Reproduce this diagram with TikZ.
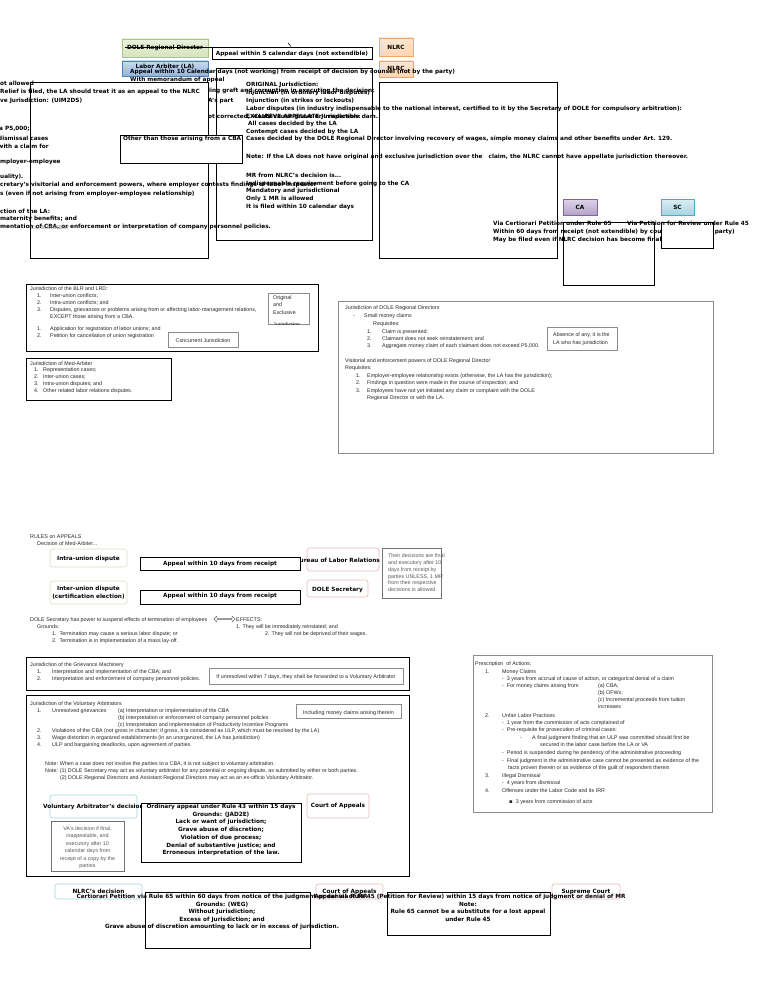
\documentclass[tikz,border=0pt]{standalone}
\usepackage{fontspec}
\setmainfont{DejaVu Sans}
\newfontfamily\arl{Liberation Sans}
\usetikzlibrary{fit,shapes.arrows}
\newcounter{tn}
\definecolor{grnF}{HTML}{D7E4BD}
\definecolor{grnD}{HTML}{A9C47F}
\definecolor{bluF}{HTML}{C5D9F1}
\definecolor{bluF2}{HTML}{95B3D7}
\definecolor{bluD}{HTML}{4F81BD}
\definecolor{orgF}{HTML}{FCD5B5}
\definecolor{orgD}{HTML}{E9A56B}
\definecolor{purF}{HTML}{DDD5E8}
\definecolor{purF2}{HTML}{B3A2C7}
\definecolor{purD}{HTML}{8064A2}
\definecolor{teaF}{HTML}{DAEEF3}
\definecolor{teaF2}{HTML}{A5D5E2}
\definecolor{teaD}{HTML}{4BACC6}
\definecolor{pnkD}{HTML}{E6B9B8}
\definecolor{begD}{HTML}{DDD9C4}
\definecolor{teaL}{HTML}{A5D5E2}
\tikzset{
  bt/.style={font=\fontsize{5.75}{7.7}\selectfont\bfseries, inner sep=0pt, anchor=base west},
  btc/.style={bt, anchor=base},
  bte/.style={bt, anchor=base east},
  st/.style={font=\arl\fontsize{5.35}{7}\selectfont, inner sep=0pt, anchor=base west, text=black!85},
  stc/.style={st, anchor=base},
  frame/.style={draw=black, line width=0.8pt, inner sep=0pt},
  wframe/.style={frame, fill=white},
  gframe/.style={draw=black!45, line width=0.6pt, inner sep=0pt, fill=white},
  grnbox/.style={draw=grnD, line width=0.6pt, top color=grnF!50, bottom color=grnF, inner sep=0pt},
  blubox/.style={draw=bluD, line width=0.6pt, top color=bluF, bottom color=bluF2, inner sep=0pt},
  orgbox/.style={draw=orgD, line width=0.6pt, top color=orgF!60, bottom color=orgF, inner sep=0pt},
  purbox/.style={draw=purD, line width=0.6pt, top color=purF, bottom color=purF2, inner sep=0pt},
  teabox/.style={draw=teaD, line width=0.6pt, top color=teaF, bottom color=teaF2, inner sep=0pt},
  rbeg/.style={draw=begD, line width=0.6pt, rounded corners=2.5pt, inner sep=0pt, fill=white},
  rpnk/.style={draw=pnkD, line width=0.6pt, rounded corners=2.5pt, inner sep=0pt, fill=white},
  rtea/.style={draw=teaL, line width=0.6pt, rounded corners=2.5pt, inner sep=0pt, fill=white},
}
\newcommand\T[4][bt]{\stepcounter{tn}\node[#1] (t\arabic{tn}) at (#2,#3) {#4};}
\newcommand\B[6][frame]{\node[#1, fit={(#3,#4) (#5,#6)}] (#2) {};}
\begin{document}
\begin{tikzpicture}[x=1pt,y=-1pt]
\useasboundingbox (0,0) rectangle (768,1006);
\fill[white] (0,0) rectangle (768,1006);

% ---------------- top part
\B[grnbox]{dole}{122}{39}{208}{57}
\T[btc]{165}{50}{DOLE Regional Director}
\coordinate (lnS) at (125,47.5);
\coordinate (lnE) at (291,47.5);
\draw[line width=0.7pt] (lnS) -- (lnE);
\coordinate (tkA) at (288,43);
\coordinate (tkB) at (291,46.5);
\draw[line width=0.5pt] (tkA) -- (tkB);
\B[wframe]{apfive}{212}{47}{372}{59}
\T[btc]{292}{56}{Appeal within 5 calendar days (not extendible)}
\B[orgbox]{nlrcA}{379}{38}{413}{56}
\T[btc]{396}{50}{NLRC}
\B[orgbox]{nlrcB}{379}{61}{413}{77}
\T[btc]{396}{71}{NLRC}
\B[blubox]{la}{122}{61}{208}{76}
\T[btc]{165}{69}{Labor Arbiter (LA)}
\T{130}{74}{Appeal within 10 Calendar days (not working) from receipt of decision by counsel (not by the party)}
\T{130}{81.5}{With memorandum of appeal}
\B{bone}{30}{82}{208}{258}
\B{btwo}{216}{68}{372}{240}
\B{bthree}{379}{82}{557}{258}

\T{0}{86}{ot allowed}
\T{0}{94}{Relief is filed, the LA should treat it as an appeal to the NLRC}
\T{0}{103}{ve Jurisdiction: (UIM2DS)}
\T{-1}{131}{a P5,000;}
\T{-2}{141}{dismissal cases}
\T{-2}{149}{with a claim for}
\T{0}{164}{mployer-employee}
\T{0}{178}{uality).}
\T{0}{186}{cretary's visitorial and enforcement powers, where employer contests findings of labor inspector}
\T{0}{195}{s (even if not arising from employer-employee relationship)}
\T{0}{213}{ction of the LA:}
\T{0}{220}{maternity benefits; and}
\T{0}{228}{mentation of CBA, or enforcement or interpretation of company personnel policies.}
\T[st, text=black!50]{31}{229}{CONCURRENT}
\T{208}{93}{ling graft and corruption in executing the decision;}
\T{208}{103}{A's part}
\T{208}{119}{ot corrected, would cause grave or irreparable dam.}

\T{246}{87}{ORIGINAL Jurisdiction:}
\T{246}{94.5}{Injunction (in ordinary labor disputes)}
\T{246}{102.5}{Injunction (in strikes or lockouts)}
\T{246}{111}{Labor disputes (in industry indispensable to the national interest, certified to it by the Secretary of DOLE for compulsory arbitration):}
\T{246}{119}{EXCLUSIVE APPELLATE Jurisdiction:}
\T{248}{126}{All cases decided by the LA}
\T{246}{133}{Contempt cases decided by the LA}
\T{246}{141}{Cases decided by the DOLE Regional Director involving recovery of wages, simple money claims and other benefits under Art. 129.}
\T{246}{158.5}{Note: If the LA does not have original and exclusive jurisdiction over the \ \ claim, the NLRC cannot have appellate jurisdiction thereover.}
\T{246}{177}{MR from NLRC's decision is...}
\T{246}{185}{Indispensable requirement before going to the CA}
\T{246}{192.5}{Mandatory and jurisdictional}
\T{246}{200.5}{Only 1 MR is allowed}
\T{246}{208.5}{It is filed within 10 calendar days}

\B[wframe]{other}{120}{135}{242}{163}
\T{123}{141}{Other than those arising from a CBA}

\B[purbox]{ca}{563}{199}{597}{215}
\T[btc]{580}{209.5}{CA}
\B[teabox]{sc}{661}{199}{694}{215}
\T[btc]{677.5}{209.5}{SC}
\B{cabox}{563}{222}{654}{285}
\T{493}{233}{Within 60 days from receipt (not extendible) by counsel (not by the party)}
\T{493}{241}{May be filed even if NLRC decision has become final.}
\B[wframe]{scbox}{661}{222}{713}{248}
\T{493}{225.5}{Via Certiorari Petition under Rule 65}
\T{627}{225.5}{Via Petition for Review under Rule 45}

% ---------------- BLR / Med-Arbiter
\B{blr}{26}{284}{318}{351}
\T[st]{30}{290}{Jurisdiction of the BLR and LRD:}
\T[st]{37}{297}{1.}\T[st]{50}{297}{Inter-union conflicts;}
\T[st]{37}{304}{2.}\T[st]{50}{304}{Intra-union conflicts; and}
\T[st]{37}{311}{3.}\T[st]{50}{311}{Disputes, grievances or problems arising from or affecting labor-management relations,}
\T[st]{50}{318}{EXCEPT those arising from a CBA.}
\T[st]{37}{330}{1.}\T[st]{50}{330}{Application for registration of labor unions; and}
\T[st]{37}{337}{2.}\T[st]{50}{337}{Petition for cancellation of union registration}
\B[gframe]{orig}{268}{293}{309}{324}
\T[st]{273}{299}{Original}
\T[st]{273}{306.5}{and}
\T[st]{273}{314}{Exclusive}
\begin{scope}
\clip (268,293) rectangle (309,324);
\T[st]{273}{326.5}{Jurisdiction}
\end{scope}
\B[gframe]{concur}{168}{332}{238}{347}
\T[stc]{203}{342}{Concurrent Jurisdiction}

\B{med}{26}{358}{171}{400}
\T[st]{30}{365}{Jurisdiction of Med-Arbiter}
\T[st]{34}{371.5}{1.}\T[st]{43}{371.5}{Representation cases;}
\T[st]{34}{378.5}{2.}\T[st]{43}{378.5}{Inter-union cases;}
\T[st]{34}{385.5}{3.}\T[st]{43}{385.5}{Intra-union disputes; and}
\T[st]{34}{392.5}{4.}\T[st]{43}{392.5}{Other related labor relations disputes.}

% ---------------- DOLE Regional Directors
\B[gframe]{rd}{338}{301}{713}{453}
\T[st]{345}{309}{Jurisdiction of DOLE Regional Directors}
\T[st]{353}{317}{-}\T[st]{364}{317}{Small money claims}
\T[st]{373}{325}{Requisites:}
\T[st]{367}{333}{1.}\T[st]{382}{333}{Claim is presented;}
\T[st]{367}{340}{2.}\T[st]{382}{340}{Claimant does not seek reinstatement; and}
\T[st]{367}{347}{3.}\T[st]{382}{347}{Aggregate money claim of each claimant does not exceed P5,000.}
\T[st]{345}{362}{Visitorial and enforcement powers of DOLE Regional Director}
\T[st]{345}{369}{Requisites:}
\T[st]{356}{377}{1.}\T[st]{367}{377}{Employer-employee relationship exists (otherwise, the LA has the jurisdiction);}
\T[st]{356}{384.5}{2.}\T[st]{367}{384.5}{Findings in question were made in the course of inspection; and}
\T[st]{356}{392}{3.}\T[st]{367}{392}{Employees have not yet initiated any claim or complaint with the DOLE}
\T[st]{367}{399.5}{Regional Director or with the LA.}
\B[gframe]{absence}{547}{327}{617}{350}
\T[st]{553}{336}{Absence of any, it is the}
\T[st]{553}{344}{LA who has jurisdiction}

% ---------------- RULES on APPEALS
\T[st]{30}{538}{RULES on APPEALS}
\T[st]{37}{545}{Decision of Med-Arbiter...}
\B[rbeg]{intra}{50}{549}{127}{567}
\T[btc]{88.5}{560.5}{Intra-union dispute}
\B[rpnk]{blrb}{307}{548}{379}{571}
\T[bte]{380}{562}{Bureau of Labor Relations}
\B[wframe]{apA}{140}{557}{300}{570}
\T[btc]{220}{565.5}{Appeal within 10 days from receipt}
\B[rbeg]{inter}{50}{581}{127}{604}
\T[btc]{88.5}{590.5}{Inter-union dispute}
\T[btc]{88.5}{598.5}{(certification election)}
\B[wframe]{apB}{140}{590}{300}{604}
\T[btc]{220}{597.5}{Appeal within 10 days from receipt}
\B[rpnk]{dsec}{307}{580}{368}{597}
\T[btc]{337.5}{591.5}{DOLE Secretary}
\B[draw=black!55, line width=0.8pt, inner sep=0pt, fill=white]{final}{382}{548}{441}{598}
\T[st, text=black!65]{388}{557}{Their decisions are final}
\T[st, text=black!65]{388}{564}{and executory after 10}
\T[st, text=black!65]{388}{571}{days from receipt by}
\T[st, text=black!65]{388}{578}{parties UNLESS, 1 MR}
\T[st, text=black!65]{388}{584.5}{from their respective}
\T[st, text=black!65]{388}{591}{decisions is allowed.}

\T[st]{30}{621}{DOLE Secretary has power to suspend effects of termination of employees}
\node[double arrow, draw=black!60, line width=0.4pt, minimum height=21pt, minimum width=6pt, double arrow head extend=1.5pt, inner sep=0pt] (darr) at (224.5,619) {};
\T[st]{236}{621}{EFFECTS:}
\T[st]{37}{628}{Grounds:}
\T[st]{52}{635}{1.\ \ Termination may cause a serious labor dispute; or}
\T[st]{52}{642}{2.\ \ Termination is in implementation of a mass lay-off.}
\T[st]{236}{628}{1. They will be immediately reinstated; and}
\T[st]{265}{635}{2. They will not be deprived of their wages.}

% ---------------- Grievance machinery
\B{griev}{26}{657}{409}{690}
\T[st]{30}{666}{Jurisdiction of the Grievance Machinery}
\T[st]{37}{673}{1.}\T[st]{52}{673}{Interpretation and implementation of the CBA; and}
\T[st]{37}{680}{2.}\T[st]{52}{680}{Interpretation and enforcement of company personnel policies.}
\B[gframe]{unres}{209}{668}{403}{684}
\T[stc]{306}{678}{If unresolved within 7 days, they shall be forwarded to a Voluntary Arbitrator}

% ---------------- Voluntary arbitrators
\B[frame, line width=1pt]{vab}{26}{695}{409}{876}
\T[st]{30}{705}{Jurisdiction of the Voluntary Arbitrators}
\T[st]{37}{712}{1.}\T[st]{52}{712}{Unresolved grievances}\T[st]{118}{712}{(a) Interpretation or implementation of the CBA}
\T[st]{118}{719}{(b) Interpretation or enforcement of company personnel policies}
\T[st]{118}{726}{(c) Interpretation and implementation of Productivity Incentive Programs}
\T[st]{37}{732.5}{2.}\T[st]{52}{732.5}{Violations of the CBA (not gross in character; if gross, it is considered as ULP, which must be resolved by the LA)}
\T[st]{37}{739.5}{3.}\T[st]{52}{739.5}{Wage distortion in organized establishments (in an unorganized, the LA has jurisdiction)}
\T[st]{37}{746.5}{4.}\T[st]{52}{746.5}{ULP and bargaining deadlocks, upon agreement of parties}
\B[gframe]{incl}{296}{704}{401}{718}
\T[stc]{348.5}{714}{Including money claims arising therein}
\T[st]{45}{765}{Note: When a case does not involve the parties to a CBA, it is not subject to voluntary arbitration.}
\T[st]{45}{772}{Note: (1) DOLE Secretary may act as voluntary arbitrator for any potential or ongoing dispute, as submitted by either or both parties.}
\T[st]{60}{779}{(2) DOLE Regional Directors and Assistant Regional Directors may act as an ex-officio Voluntary Arbitrator.}
\B[rtea]{vadec}{50}{795}{137}{818}
\T{43}{808}{Voluntary Arbitrator's decision}
\B[wframe]{rule}{141}{803}{301}{862}
\T[btc]{221}{808.5}{Ordinary appeal under Rule 43 within 15 days}
\T[btc]{221}{816}{Grounds: (JAD2E)}
\T[btc]{221}{823.8}{Lack or want of jurisdiction;}
\T[btc]{221}{831.5}{Grave abuse of discretion;}
\T[btc]{221}{839.2}{Violation of due process;}
\T[btc]{221}{847}{Denial of substantive justice; and}
\T[btc]{221}{854.6}{Erroneous interpretation of the law.}
\B[rpnk]{cavb}{307}{794}{369}{818}
\T[btc]{338}{807.5}{Court of Appeals}
\B[draw=black!55, line width=0.7pt, inner sep=0pt, fill=white]{vafin}{51}{821}{124}{871}
\T[stc, text=black!65]{87.5}{830}{VA's decision if final,}
\T[stc, text=black!65]{87.5}{837.5}{inappealable, and}
\T[stc, text=black!65]{87.5}{845}{executory after 10}
\T[stc, text=black!65]{87.5}{852.5}{calendar days from}
\T[stc, text=black!65]{87.5}{860}{receipt of a copy by the}
\T[stc, text=black!65]{87.5}{867.5}{parties}

% ---------------- Prescription
\B[gframe]{presc}{473}{655}{712}{812}
\T[st]{475}{665}{Prescription\ \ of Actions:}
\T[st]{485}{673}{1.}\T[st]{502}{673}{Money Claims}
\T[st]{502}{680}{-\ \ 3 years from accrual of cause of action, or categorical denial of a claim}
\T[st]{502}{687}{-\ \ For money claims arising from}\T[st]{598}{687}{(a) CBA;}
\T[st]{598}{694}{(b) OFWs;}
\T[st]{598}{701}{(c) Incremental proceeds from tuition}
\T[st]{598}{708.5}{increases}
\T[st]{485}{717}{2.}\T[st]{502}{717}{Unfair Labor Practices}
\T[st]{502}{724}{-\ \ 1 year from the commission of acts complained of}
\T[st]{502}{731.5}{-\ \ Pre-requisite for prosecution of criminal cases:}
\T[st]{520}{739}{-}\T[st]{532}{739}{A final judgment finding that an ULP was committed should first be}
\T[st]{540}{746.5}{secured in the labor case before the LA or VA}
\T[st]{502}{754.5}{-\ \ Period is suspended during he pendency of the administrative proceeding}
\T[st]{502}{762}{-\ \ Final judgment in the administrative case cannot be presented as evidence of the}
\T[st]{508}{769.5}{facts proven therein or as evidence of the guilt of respondent therein}
\T[st]{485}{777}{3.}\T[st]{502}{777}{Illegal Dismissal}
\T[st]{502}{784.5}{-\ \ 4 years from dismissal}
\T[st]{485}{792}{4.}\T[st]{502}{792}{Offenses under the Labor Code and its IRR}
\T[st]{509}{803}{{\rmfamily ▪}\ \ 3 years from commission of acts}

% ---------------- bottom
\B[rtea]{nlrcdec}{55}{884}{142}{899}
\T[btc]{98.5}{893}{NLRC's decision}
\B[rpnk]{cabot}{316}{884}{383}{899}
\T[btc]{349.5}{893}{Court of Appeals}
\B[rpnk]{scbot}{552}{884}{620}{899}
\T[btc]{586}{893}{Supreme Court}
\B{gbox}{145}{892}{310}{948}
\B{nbox}{387}{892}{550}{935}
\T[btc]{222}{898.5}{Certiorari Petition via Rule 65 within 60 days from notice of the judgment or denial of MR}
\T[btc]{222}{906}{Grounds: (WEG)}
\T[btc]{222}{913.5}{Without Jurisdiction;}
\T[btc]{222}{921}{Excess of Jurisdiction; and}
\T[btc]{222}{928.5}{Grave abuse of discretion amounting to lack or in excess of jurisdiction.}
\T[btc]{470}{898.5}{Appeal via Rule 45 (Petition for Review) within 15 days from notice of judgment or denial of MR}
\T[btc]{468}{906}{Note:}
\T[btc]{468}{913.5}{Rule 65 cannot be a substitute for a lost appeal}
\T[btc]{468}{921}{under Rule 45}
\end{tikzpicture}
\end{document}
